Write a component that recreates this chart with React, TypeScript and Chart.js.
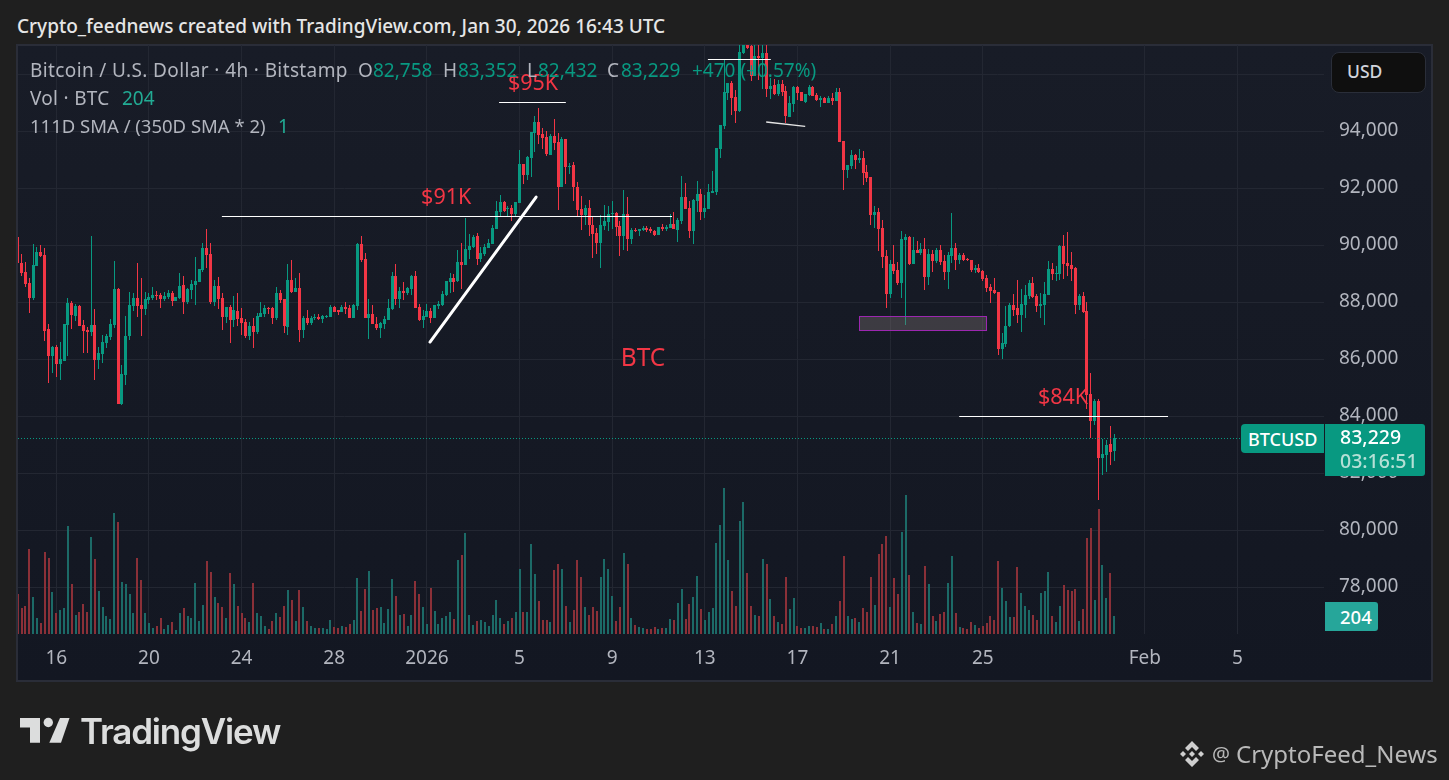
import React, { useEffect, useRef } from "react";
import { Chart, registerables } from "chart.js";

Chart.register(...registerables);

const opens = [90290,89380,89065,88680,88150,89275,89765,89660,87065,86115,86430,85835,85940,87200,87975,87520,87870,87200,87030,86960,87200,85975,86185,86570,86780,87200,88470,84430,85450,86820,87870,88150,87905,87765,88080,88150,88255,88255,88115,88185,88330,88045,88150,88610,88010,88430,88610,88710,89135,89905,89695,88010,88570,88150,87485,87835,87380,87695,87450,87310,86820,87170,86960,87485,87590,87800,87800,87450,88330,88115,87135,88780,88360,88500,87030,87450,87275,87450,87485,87415,87485,87485,87835,87730,87660,87835,87800,87450,87870,90045,89520,87450,87590,87240,87100,87240,87380,87765,88925,88115,88400,88330,88470,88925,87835,87380,87485,87695,87450,87870,87905,88255,88715,88855,88750,89415,89310,89835,89940,90330,89520,89695,89905,90045,90575,91170,91520,91275,91310,91100,91485,92855,92470,93065,93945,94330,93910,93805,93170,93840,93630,92050,93730,92750,92820,92050,91275,91065,91310,90715,90435,90080,90680,90820,91100,91135,90680,90330,91100,90220,90540,90500,90540,90610,90575,90500,90360,90640,90575,90610,90750,90540,90855,91695,91310,90500,91555,91800,91170,91275,91835,91870,93380,94190,95345,95700,95205,94715,96750,97030,96970,95945,96645,96575,96750,95490,95630,95310,95660,95415,94505,94960,95555,95380,95030,95275,95555,95275,95100,95170,95000,95170,95065,95380,93660,92645,92785,93170,92995,93065,92575,92400,91065,91170,90610,89625,88290,89345,89135,88680,90190,90290,89345,89835,89730,89870,88890,89695,89450,89835,89450,89065,89625,89905,89485,89660,89520,89485,89135,89205,89100,88855,88540,88430,88360,86360,86535,87170,87905,87800,87555,87905,88220,88680,88220,87870,87905,88255,89170,88995,88995,89975,89380,89310,89205,87905,88220,87695,84780,83835,84535,82535,82640,83025,82758];
const highs = [90290,89680,89415,88840,90050,89940,90010,89905,87240,86465,86500,86605,87240,88150,88045,87940,87905,87380,87135,90330,87765,86430,86850,86890,87415,89450,88500,85800,87520,88360,88330,89380,88850,88360,88330,88540,88400,88330,88360,88430,88400,88185,89015,88925,88500,88780,89590,89170,90080,90570,90080,88780,88890,88330,87835,87905,88220,88330,87800,87415,87310,87450,87625,88010,87905,87835,87835,88540,88430,88115,89345,89485,88850,89030,87520,87730,87520,87590,87590,87555,87555,87905,87870,87730,87905,88010,87905,87940,90080,90330,89730,88115,87905,87485,87310,87520,88115,89065,89345,88540,88715,88540,88960,89100,87940,87730,87940,87800,87905,88045,88400,88750,89030,88995,89835,90080,90960,90400,90365,90435,89940,90045,90220,90715,91555,91765,91555,91380,91415,91520,93345,92855,93135,93980,94540,94820,94120,94015,93910,94435,93945,93800,93730,92890,92925,92225,91730,91415,91590,91030,90610,91065,91415,91380,91555,91170,90855,91940,91695,90610,90610,90575,90680,90680,90640,90540,90640,90750,90715,91100,91170,90960,92435,92190,91555,91625,92260,91975,91765,92155,92610,93415,94225,96505,95700,95770,95450,97300,97200,97200,97250,97100,97200,97100,97150,95875,95840,95800,95800,95570,95240,95590,95590,95380,95310,95630,95590,95335,95220,95200,95240,95335,95520,95520,93660,92820,93345,93205,93380,93310,92820,92400,91380,91310,90890,89835,89485,90010,89415,90500,90400,90330,90290,90150,90080,90255,89870,89835,89905,90010,89660,89765,91135,90080,89730,89730,89555,89485,89310,89345,89135,88960,88640,88855,88360,86925,87870,87975,88290,88785,88470,88610,88785,88890,88290,88325,88715,89450,89380,89275,90010,90365,90470,89765,89240,88290,88360,88010,85520,84605,84605,83200,83170,83660,83352];
const lows = [88570,88920,88540,87625,88080,89275,89590,86640,85170,85520,85380,85270,85940,86115,87065,87345,87170,86220,86220,86820,85270,85660,85870,86395,86675,87100,84430,84400,85100,86680,87695,87485,86820,87555,87940,88080,88080,87800,88045,88115,87870,88045,88115,87590,87940,88115,87905,88710,89065,89205,87940,87870,87765,87030,87275,86570,87135,87170,86850,86750,86680,86395,86890,87485,87485,87590,87240,87380,87975,86920,86850,88330,88360,86605,86750,87205,87205,87380,87380,87275,87450,87485,87660,87555,87660,87590,87450,87450,87730,89415,87450,86710,87240,87030,86750,87065,87380,87730,87905,87800,88080,88255,88255,87800,87345,87100,87485,87275,87450,87765,87870,88220,88330,88360,88715,88470,89310,89520,89905,89310,89415,89625,89905,90045,90575,91030,91170,91030,90855,91030,91485,92155,92295,92400,93275,93555,93380,93135,93170,93345,91240,92050,92155,92505,91555,90995,90540,90715,90330,89555,89695,89205,90540,90500,90575,90330,89625,89835,89800,90050,90440,90300,90500,90440,90420,90300,90360,90500,90500,90610,90575,90120,90750,91275,90255,90050,91170,90890,90960,91275,91835,91765,93065,94085,95100,94575,94295,94680,96700,96880,95770,95945,95800,95490,95205,95135,95275,95220,95220,94295,94505,94680,95100,95065,94990,95220,95220,95065,94855,94990,94990,94925,95065,93625,91940,92365,92680,92680,92890,92120,92225,90715,90610,89800,89205,87800,88150,88995,88610,88150,87205,89310,89345,89730,89660,88430,88610,89065,89380,89310,88785,88470,89380,89135,89345,89450,89450,89065,89030,89030,88750,88360,87975,88290,86150,86010,86430,87135,87520,87275,86960,87450,88115,88150,87660,87450,87205,88255,88785,88750,88785,88820,88925,88750,87590,87730,87625,84255,83235,83695,81060,81940,82045,82290,82432];
const closes = [89380,89030,88640,88150,89310,89765,89625,86990,86115,86430,85835,86010,87240,87975,87555,87870,87170,86990,86960,87200,85975,86220,86605,86820,87240,88470,84430,85480,86820,87905,88150,87870,87765,88115,88185,88255,88220,88115,88220,88330,88045,88185,88570,88010,88470,88640,88750,89170,89905,89660,88010,88570,88115,87485,87835,87380,87730,87415,87275,86820,87170,86960,87520,87625,87800,87765,87450,88330,88080,87170,88780,88360,88500,87030,87450,87275,87450,87485,87415,87520,87520,87835,87660,87660,87835,87765,87450,87905,90045,89485,87450,87590,87240,87100,87275,87415,87800,88925,88115,88400,88330,88500,88925,87800,87380,87520,87695,87450,87905,87940,88290,88750,88855,88715,89415,89310,89870,89975,90290,89520,89730,89940,90080,90610,91205,91520,91205,91310,91100,91520,92855,92470,93100,93980,94330,93870,93770,93205,93840,93590,92050,93730,92750,92785,92050,91240,91065,91310,90715,90400,90080,90715,90855,91100,91135,90640,90330,91100,90220,90540,90500,90575,90610,90540,90500,90360,90640,90575,90640,90750,90575,90890,91695,91275,90500,91590,91800,91170,91310,91870,91905,93400,94225,95380,95700,95170,94715,96785,97030,96930,95945,96645,96575,96750,95490,95595,95310,95660,95380,94540,95000,95555,95345,95065,95310,95555,95240,95100,95170,95000,95170,95065,95380,93625,92645,92820,93170,92995,93065,92540,92365,91065,91170,90575,89590,88290,89345,89100,88680,90220,90290,89345,89835,89730,89870,88890,89695,89450,89835,89415,89065,89660,89905,89485,89660,89485,89485,89135,89205,89065,88820,88500,88400,88325,86360,86570,87170,87905,87730,87555,87940,88255,88680,88185,87870,87940,88290,89170,88995,89030,89975,89345,89275,89170,87905,88220,87660,84750,83835,84535,82535,82675,82990,82745,83229];
const volumes = [454,295,318,964,420,181,125,930,862,476,238,272,295,1225,567,215,249,340,249,1100,850,488,306,204,170,1372,1270,590,567,454,238,862,612,238,125,68,91,181,57,102,136,45,238,295,204,181,578,147,329,828,703,420,352,306,181,692,567,318,238,181,136,578,238,204,91,57,147,238,193,318,499,386,147,499,306,147,91,68,68,68,57,159,79,68,91,79,113,159,635,261,510,714,272,295,306,125,284,624,431,215,227,91,215,601,454,306,113,522,261,113,181,204,249,170,839,896,1145,215,102,147,159,136,91,215,386,181,113,147,181,249,737,249,249,1021,680,374,159,159,136,726,794,737,318,136,272,839,646,306,215,306,261,646,850,737,431,147,306,919,794,181,102,79,68,57,57,79,57,68,68,170,159,352,510,170,340,420,658,284,159,249,295,1032,1236,1656,839,488,318,1281,1497,692,318,215,204,850,794,397,204,136,113,646,284,408,91,68,68,91,91,79,125,57,57,113,204,374,885,204,170,181,136,295,249,646,329,907,1021,1111,306,635,454,1157,1576,669,249,125,113,771,567,204,147,227,249,578,885,238,79,68,57,136,102,68,91,125,204,159,828,522,374,193,193,760,465,318,272,215,159,465,488,703,204,136,318,556,499,488,510,147,284,1089,1202,386,1418,782,408,692,204];

const priceTicks = [78000, 80000, 82000, 84000, 86000, 88000, 90000, 92000, 94000, 96000];
const timeTickIndexes = [10, 34, 58, 82, 106, 130, 154, 178, 202, 226, 250, 292, 316];
const timeTickLabels = ["16", "20", "24", "28", "2026", "5", "9", "13", "17", "21", "25", "Feb", "5"];

const lastClose = 83229;
const xRange = [0.08, 338.4];
const priceRange = [76351, 97018];
const volumeMax = 6675;

const levelLines = [
  { from: 52.9, to: 169.5, price: 91000 },
  { from: 124.7, to: 142, price: 95007 },
  { from: 178.8, to: 195.1, price: 96516 },
  { from: 243.9, to: 298, price: 84000 },
];
const trendFrom = [106.8, 86596];
const trendTo = [134.3, 91684];
const slopeFrom = [193.9, 94316];
const slopeTo = [204, 94165];
const zoneBox = [218, 251, 87500, 86995];
const notes = [
  { text: "$91K", at: 111, price: 91670, size: 21.5 },
  { text: "$95K", at: 133.5, price: 95650, size: 21.5 },
  { text: "$84K", at: 270.8, price: 84650, size: 21.5 },
  { text: "BTC", at: 162, price: 86000, size: 24.5 },
];

const UP = "#089981";
const DOWN = "#f23645";
const UP_VOL = "#1c6a67";
const DOWN_VOL = "#8b3038";
const FONT = "'Noto Sans', sans-serif";

const snapBars = {
  id: "snapBars",
  afterDatasetsUpdate(chart: any) {
    chart.data.datasets.forEach((ds: any, di: number) => {
      const meta = chart.getDatasetMeta(di);
      meta.data.forEach((el: any) => {
        el.x = ds.barThickness % 2 === 1 ? Math.floor(el.x) + 0.5 : Math.round(el.x);
        el.y = Math.round(el.y);
        el.base = Math.round(el.base);
        if (Math.abs(el.base - el.y) < 1) el.base = el.y + 1;
        el.height = el.base - el.y;
      });
    });
  },
};

const drawings = {
  id: "drawings",
  afterDatasetsDraw(chart: any) {
    const { ctx, scales, chartArea } = chart;
    const sx = scales.x;
    const sy = scales.y;
    const X = (v: number) => sx.getPixelForValue(v);
    const Y = (v: number) => sy.getPixelForValue(v);
    ctx.save();

    // dotted last-price line
    ctx.strokeStyle = UP;
    ctx.lineWidth = 1;
    ctx.setLineDash([1, 2]);
    ctx.beginPath();
    ctx.moveTo(chartArea.left, Math.round(Y(lastClose)) + 0.5);
    ctx.lineTo(1241, Math.round(Y(lastClose)) + 0.5);
    ctx.stroke();
    ctx.setLineDash([]);

    // zone
    const bx = Math.round(X(zoneBox[0])) + 0.5;
    const bw = Math.round(X(zoneBox[1]) - X(zoneBox[0]));
    const by = Math.round(Y(zoneBox[2])) + 0.5;
    const bh = Math.round(Y(zoneBox[3]) - Y(zoneBox[2]));
    ctx.fillStyle = "rgba(120,110,110,0.4)";
    ctx.fillRect(bx, by, bw, bh);
    ctx.strokeStyle = "#9c27b0";
    ctx.strokeRect(bx, by, bw, bh);

    // white levels
    ctx.strokeStyle = "#ffffff";
    ctx.lineWidth = 1;
    levelLines.forEach((l) => {
      const y = Math.floor(Y(l.price)) + 0.5;
      ctx.beginPath();
      ctx.moveTo(X(l.from), y);
      ctx.lineTo(X(l.to), y);
      ctx.stroke();
    });

    ctx.lineWidth = 1.3;
    ctx.strokeStyle = "#e6e6e6";
    ctx.beginPath();
    ctx.moveTo(X(slopeFrom[0]), Y(slopeFrom[1]));
    ctx.lineTo(X(slopeTo[0]), Y(slopeTo[1]));
    ctx.stroke();

    ctx.lineWidth = 3;
    ctx.strokeStyle = "#ffffff";
    ctx.lineCap = "round";
    ctx.beginPath();
    ctx.moveTo(X(trendFrom[0]), Y(trendFrom[1]));
    ctx.lineTo(X(trendTo[0]), Y(trendTo[1]));
    ctx.stroke();

    // notes
    ctx.fillStyle = DOWN;
    ctx.textAlign = "center";
    ctx.textBaseline = "middle";
    notes.forEach((n) => {
      ctx.font = `${n.size}px ${FONT}`;
      ctx.fillText(n.text, X(n.at), Y(n.price));
    });
    ctx.restore();
  },
};

function T({ x, y, c, s = 18, w = 400, o = 1, ls = 0, children }: any) {
  return (
    <span
      style={{
        position: "absolute",
        left: x,
        top: y,
        transform: "translateY(-50%)",
        color: c,
        fontSize: s,
        fontWeight: w,
        opacity: o,
        letterSpacing: ls,
        fontFamily: FONT,
        lineHeight: 1,
        whiteSpace: "nowrap",
      }}
    >
      {children}
    </span>
  );
}

const box = (l: number, t: number, r: number, b: number, extra: any = {}) => ({
  position: "absolute" as const,
  left: l,
  top: t,
  width: r - l,
  height: b - t,
  boxSizing: "border-box" as const,
  ...extra,
});

export default function App() {
  const ref = useRef<HTMLCanvasElement | null>(null);

  useEffect(() => {
    const idx = opens.map((_, i) => i);
    const isUp = (i: number) => closes[i] >= opens[i];
    const chart = new Chart(ref.current as HTMLCanvasElement, {
      type: "bar",
      data: {
        datasets: [
          {
            data: idx.map((i) => ({ x: i, y: volumes[i] })),
            yAxisID: "y2",
            backgroundColor: idx.map((i) => (isUp(i) ? UP_VOL : DOWN_VOL)),
            barThickness: 2,
            inflateAmount: 0,
            grouped: false,
            order: 3,
          },
          {
            data: idx.map((i) => ({ x: i, y: [lows[i], highs[i]] })),
            yAxisID: "y",
            backgroundColor: idx.map((i) => (isUp(i) ? UP : DOWN)),
            barThickness: 1,
            inflateAmount: 0,
            grouped: false,
            order: 2,
          },
          {
            data: idx.map((i) => ({ x: i, y: [opens[i], closes[i]] })),
            yAxisID: "y",
            backgroundColor: idx.map((i) => (isUp(i) ? UP : DOWN)),
            barThickness: 3,
            inflateAmount: 0,
            grouped: false,
            order: 1,
          },
        ],
      } as any,
      options: {
        animation: false,
        responsive: false,
        devicePixelRatio: 1,
        events: [],
        layout: { padding: { left: 18, top: 45, right: 16, bottom: 99 } },
        plugins: { legend: { display: false }, tooltip: { enabled: false } },
        scales: {
          x: {
            type: "linear",
            min: xRange[0],
            max: xRange[1],
            offset: false,
            bounds: "data",
            grid: { color: "#232732", offset: false, drawTicks: false },
            border: { display: false },
            afterBuildTicks: (s: any) => {
              s.ticks = timeTickIndexes.map((value) => ({ value }));
            },
            afterFit: (s: any) => {
              s.height = 47;
            },
            ticks: {
              autoSkip: false,
              maxRotation: 0,
              padding: 13,
              color: "#b2b5be",
              font: { family: FONT, size: 19 },
              callback: (v: any) => timeTickLabels[timeTickIndexes.indexOf(v)] ?? "",
            },
          },
          y: {
            position: "right",
            min: priceRange[0],
            max: priceRange[1],
            grid: { color: "#232732", drawTicks: false },
            border: { display: false },
            afterBuildTicks: (s: any) => {
              s.ticks = priceTicks.map((value) => ({ value }));
            },
            afterFit: (s: any) => {
              s.width = 109;
            },
            ticks: {
              padding: 15,
              color: "#b2b5be",
              crossAlign: "near",
              font: { family: FONT, size: 19 },
              callback: (v: any) => Number(v).toLocaleString("en-US"),
            },
          },
          y2: {
            display: false,
            min: 0,
            max: volumeMax,
          },
        },
      } as any,
      plugins: [snapBars, drawings],
    });
    return () => chart.destroy();
  }, []);

  const teal = "#089981";
  const grey = "#b2b5be";
  return (
    <div style={{ position: "absolute", left: 0, top: 0, width: 1449, height: 780, overflow: "hidden", background: "#1f1f1f" }}>
      <T x={17} y={26} c="#e6e6e6" s={19} w={500}>
        Crypto_feednews created with TradingView.com, Jan 30, 2026 16:43 UTC
      </T>
      <div
        style={box(16, 44, 1433, 682, {
          background: "linear-gradient(#181c27, #131722)",
          border: "2px solid #2a2d38",
        })}
      />
      <canvas ref={ref} width={1449} height={780} style={{ position: "absolute", left: 0, top: 0, display: "block" }} />

      <T x={30} y={70} c={grey} s={19} ls={0.38}>Bitcoin / U.S. Dollar · 4h · Bitstamp</T>
      <T x={358} y={70} c={grey} s={19}>O</T>
      <T x={373} y={70} c={teal} s={19}>82,758</T>
      <T x={443} y={70} c={grey} s={19}>H</T>
      <T x={458} y={70} c={teal} s={19}>83,352</T>
      <T x={527} y={70} c={grey} s={19}>L</T>
      <T x={538} y={70} c={teal} s={19}>82,432</T>
      <T x={607} y={70} c={grey} s={19}>C</T>
      <T x={621} y={70} c={teal} s={19}>83,229</T>
      <T x={692} y={70} c={teal} s={19}>+470 (+0.57%)</T>
      <T x={30} y={98} c={grey} s={19} ls={0.3}>Vol · BTC</T>
      <T x={122} y={98} c="#22ab94" s={19}>204</T>
      <T x={30} y={126} c={grey} s={18.5}>111D SMA / (350D SMA * 2)</T>
      <T x={278} y={126} c="#22ab94" s={19}>1</T>

      <div style={box(1331, 52, 1426, 93, { background: "#0f0f0f", border: "1px solid #2a2e39", borderRadius: 8 })} />
      <T x={1347} y={72} c="#d1d4dc" s={17.5} w={500}>USD</T>

      <div style={box(1241, 424, 1324, 453, { background: teal, borderRadius: "4px 0 0 4px" })} />
      <T x={1248} y={439} c="#ffffff" s={18} w={500}>BTCUSD</T>
      <div style={box(1325, 424, 1425, 476, { background: teal, borderRadius: "0 3px 3px 0" })} />
      <T x={1340} y={437} c="#ffffff" s={19.5} w={500}>83,229</T>
      <T x={1340} y={461} c="#b5e0d6" s={19.5} w={500}>03:16:51</T>
      <div style={box(1325, 602, 1378, 631, { background: "#26a69a", borderRadius: "0 3px 3px 0" })} />
      <T x={1340} y={617} c="#ffffff" s={18.5} w={500}>204</T>

      <svg style={{ position: "absolute", left: 0, top: 700 }} width={80} height={60}>
        <g fill="#dcdddd">
          <path d="M20 18 H40 V42.7 H30 V27.5 H20 Z" />
          <circle cx={48.3} cy={22.5} r={4.7} />
          <path d="M60 18 H69.5 L61 42.7 H49.3 Z" />
        </g>
      </svg>
      <T x={80} y={731} c="#dcdddd" s={35} w={600}>
        <span style={{ fontFamily: "Inter, sans-serif", letterSpacing: -1.2 }}>TradingView</span>
      </T>

      <svg style={{ position: "absolute", left: 1178, top: 740 }} width={28} height={28} viewBox="0 0 28 28">
        <g fill="#cfcfcf">
          <path d="M14 1 L21 8 L18 11 L14 7 L10 11 L7 8 Z" />
          <path d="M14 27 L7 20 L10 17 L14 21 L18 17 L21 20 Z" />
          <path d="M14 11 L17 14 L14 17 L11 14 Z" />
          <path d="M5 11 L8 14 L5 17 L2 14 Z" />
          <path d="M23 11 L26 14 L23 17 L20 14 Z" />
        </g>
      </svg>
      <T x={1212} y={754} c="#b9b9b9" s={20}>@</T>
      <T x={1236} y={754} c="#b9b9b9" s={24}>CryptoFeed_News</T>
    </div>
  );
}
